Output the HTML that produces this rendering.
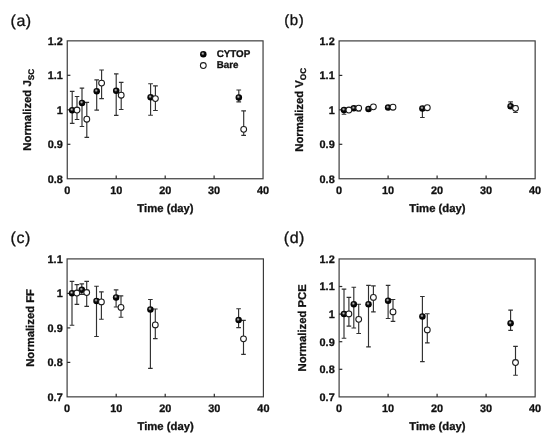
<!DOCTYPE html>
<html lang="en">
<head>
<meta charset="utf-8">
<title>Figure</title>
<style>
html,body{margin:0;padding:0;background:#fff;}
body{width:550px;height:448px;overflow:hidden;}
svg{display:block;filter:blur(0.35px);text-rendering:geometricPrecision;font-family:'Liberation Sans', Arial, Helvetica, sans-serif;}
text{stroke:#111;stroke-width:0.3px;stroke-linejoin:round;}
</style>
</head>
<body>
<svg width="550" height="448" viewBox="0 0 550 448">
<defs><radialGradient id="g" cx="0.44" cy="0.42" r="0.52" fx="0.42" fy="0.38"><stop offset="0" stop-color="#d0d0d0"/><stop offset="0.2" stop-color="#8a8a8a"/><stop offset="0.5" stop-color="#0c0c0c"/><stop offset="1" stop-color="#000"/></radialGradient></defs>
<rect width="550" height="448" fill="#fff"/>
<g>
<text x="10.6" y="25.8" font-size="16" letter-spacing="0.5" fill="#111">(a)</text>
<rect x="67.25" y="40.85" width="195.80" height="137.90" fill="none" stroke="#3a3a3a" stroke-width="1.18"/>
<text x="62.9" y="44.6" text-anchor="end" font-size="10.9" font-weight="bold" fill="#111">1.2</text>
<path d="M67.2 75.3h3.2" stroke="#2a2a2a" stroke-width="1.2"/>
<text x="62.9" y="79.1" text-anchor="end" font-size="10.9" font-weight="bold" fill="#111">1.1</text>
<path d="M67.2 109.8h3.2" stroke="#2a2a2a" stroke-width="1.2"/>
<text x="62.9" y="113.6" text-anchor="end" font-size="10.9" font-weight="bold" fill="#111">1</text>
<path d="M67.2 144.3h3.2" stroke="#2a2a2a" stroke-width="1.2"/>
<text x="62.9" y="148.1" text-anchor="end" font-size="10.9" font-weight="bold" fill="#111">0.9</text>
<text x="62.9" y="182.6" text-anchor="end" font-size="10.9" font-weight="bold" fill="#111">0.8</text>
<text x="67.2" y="194.2" text-anchor="middle" font-size="10.9" font-weight="bold" fill="#111">0</text>
<path d="M116.2 178.8v-3.2" stroke="#2a2a2a" stroke-width="1.2"/>
<text x="116.2" y="194.2" text-anchor="middle" font-size="10.9" font-weight="bold" fill="#111">10</text>
<path d="M165.2 178.8v-3.2" stroke="#2a2a2a" stroke-width="1.2"/>
<text x="165.2" y="194.2" text-anchor="middle" font-size="10.9" font-weight="bold" fill="#111">20</text>
<path d="M214.1 178.8v-3.2" stroke="#2a2a2a" stroke-width="1.2"/>
<text x="214.1" y="194.2" text-anchor="middle" font-size="10.9" font-weight="bold" fill="#111">30</text>
<text x="263.1" y="194.2" text-anchor="middle" font-size="10.9" font-weight="bold" fill="#111">40</text>
<text x="165.5" y="211.8" text-anchor="middle" font-size="11.3" font-weight="bold" fill="#111">Time (day)</text>
<text transform="translate(30.9 109.8) rotate(-90)" text-anchor="middle" font-size="11.3" font-weight="bold" fill="#111">Normalized J<tspan font-size="8.2" dy="2.6">SC</tspan></text>
<path d="M72.2 91.3V123.3M69.9 91.3H74.5M69.9 123.3H74.5" stroke="#303030" stroke-width="1.15" fill="none"/>
<path d="M82.0 88.1V126.5M79.7 88.1H84.2M79.7 126.5H84.2" stroke="#303030" stroke-width="1.15" fill="none"/>
<path d="M96.7 79.9V110.1M94.4 79.9H99.0M94.4 110.1H99.0" stroke="#303030" stroke-width="1.15" fill="none"/>
<path d="M116.2 73.8V115.4M114.0 73.8H118.5M114.0 115.4H118.5" stroke="#303030" stroke-width="1.15" fill="none"/>
<path d="M150.6 83.7V115.2M148.2 83.7H152.9M148.2 115.2H152.9" stroke="#303030" stroke-width="1.15" fill="none"/>
<path d="M238.8 90.0V101.8M236.4 90.0H241.1M236.4 101.8H241.1" stroke="#303030" stroke-width="1.15" fill="none"/>
<path d="M77.0 96.5V119.5M74.8 96.5H79.3M74.8 119.5H79.3" stroke="#303030" stroke-width="1.15" fill="none"/>
<path d="M86.8 102.4V137.3M84.5 102.4H89.1M84.5 137.3H89.1" stroke="#303030" stroke-width="1.15" fill="none"/>
<path d="M101.6 70.0V98.6M99.3 70.0H103.9M99.3 98.6H103.9" stroke="#303030" stroke-width="1.15" fill="none"/>
<path d="M121.2 82.3V109.5M118.9 82.3H123.5M118.9 109.5H123.5" stroke="#303030" stroke-width="1.15" fill="none"/>
<path d="M155.4 85.9V110.5M153.1 85.9H157.8M153.1 110.5H157.8" stroke="#303030" stroke-width="1.15" fill="none"/>
<path d="M243.7 110.8V135.3M241.3 110.8H246.0M241.3 135.3H246.0" stroke="#303030" stroke-width="1.15" fill="none"/>
<circle cx="72.2" cy="110.2" r="3.25" fill="url(#g)"/>
<circle cx="82.0" cy="102.9" r="3.25" fill="url(#g)"/>
<circle cx="96.7" cy="91.2" r="3.25" fill="url(#g)"/>
<circle cx="116.2" cy="90.8" r="3.25" fill="url(#g)"/>
<circle cx="150.6" cy="97.3" r="3.25" fill="url(#g)"/>
<circle cx="238.8" cy="97.5" r="3.25" fill="url(#g)"/>
<circle cx="77.0" cy="110.0" r="2.9" fill="#fff" stroke="#1c1c1c" stroke-width="1.05"/>
<circle cx="86.8" cy="119.2" r="2.9" fill="#fff" stroke="#1c1c1c" stroke-width="1.05"/>
<circle cx="101.6" cy="83.1" r="2.9" fill="#fff" stroke="#1c1c1c" stroke-width="1.05"/>
<circle cx="121.2" cy="95.2" r="2.9" fill="#fff" stroke="#1c1c1c" stroke-width="1.05"/>
<circle cx="155.4" cy="98.6" r="2.9" fill="#fff" stroke="#1c1c1c" stroke-width="1.05"/>
<circle cx="243.7" cy="129.3" r="2.9" fill="#fff" stroke="#1c1c1c" stroke-width="1.05"/>
<circle cx="203.3" cy="54.3" r="3.25" fill="url(#g)"/>
<circle cx="203.3" cy="65.5" r="2.9" fill="#fff" stroke="#1c1c1c" stroke-width="1.05"/>
<text x="216.7" y="57.1" font-size="9.8" font-weight="bold" fill="#111">CYTOP</text>
<text x="216.7" y="68.2" font-size="9.8" font-weight="bold" fill="#111">Bare</text>
</g>
<g>
<text x="284.3" y="24.8" font-size="15" letter-spacing="0.5" fill="#111">(b)</text>
<rect x="339.10" y="40.90" width="196.05" height="137.85" fill="none" stroke="#3a3a3a" stroke-width="1.18"/>
<text x="334.7" y="44.7" text-anchor="end" font-size="10.9" font-weight="bold" fill="#111">1.2</text>
<path d="M339.1 75.4h3.2" stroke="#2a2a2a" stroke-width="1.2"/>
<text x="334.7" y="79.2" text-anchor="end" font-size="10.9" font-weight="bold" fill="#111">1.1</text>
<path d="M339.1 109.8h3.2" stroke="#2a2a2a" stroke-width="1.2"/>
<text x="334.7" y="113.6" text-anchor="end" font-size="10.9" font-weight="bold" fill="#111">1</text>
<path d="M339.1 144.3h3.2" stroke="#2a2a2a" stroke-width="1.2"/>
<text x="334.7" y="148.1" text-anchor="end" font-size="10.9" font-weight="bold" fill="#111">0.9</text>
<text x="334.7" y="182.6" text-anchor="end" font-size="10.9" font-weight="bold" fill="#111">0.8</text>
<text x="339.1" y="194.2" text-anchor="middle" font-size="10.9" font-weight="bold" fill="#111">0</text>
<path d="M388.1 178.8v-3.2" stroke="#2a2a2a" stroke-width="1.2"/>
<text x="388.1" y="194.2" text-anchor="middle" font-size="10.9" font-weight="bold" fill="#111">10</text>
<path d="M437.1 178.8v-3.2" stroke="#2a2a2a" stroke-width="1.2"/>
<text x="437.1" y="194.2" text-anchor="middle" font-size="10.9" font-weight="bold" fill="#111">20</text>
<path d="M486.1 178.8v-3.2" stroke="#2a2a2a" stroke-width="1.2"/>
<text x="486.1" y="194.2" text-anchor="middle" font-size="10.9" font-weight="bold" fill="#111">30</text>
<text x="535.1" y="194.2" text-anchor="middle" font-size="10.9" font-weight="bold" fill="#111">40</text>
<text x="437.4" y="211.8" text-anchor="middle" font-size="11.3" font-weight="bold" fill="#111">Time (day)</text>
<text transform="translate(303.0 109.8) rotate(-90)" text-anchor="middle" font-size="11.3" font-weight="bold" fill="#111">Normalized V<tspan font-size="8.2" dy="2.6">OC</tspan></text>
<path d="M344.0 109.7V114.2M341.7 109.7H346.3M341.7 114.2H346.3" stroke="#303030" stroke-width="1.15" fill="none"/>
<path d="M422.4 106.5V117.5M420.1 106.5H424.7M420.1 117.5H424.7" stroke="#303030" stroke-width="1.15" fill="none"/>
<path d="M510.6 101.9V108.5M508.3 101.9H512.9M508.3 108.5H512.9" stroke="#303030" stroke-width="1.15" fill="none"/>
<path d="M358.7 108.1V111.0M356.4 108.1H361.0M356.4 111.0H361.0" stroke="#303030" stroke-width="1.15" fill="none"/>
<path d="M515.5 106.0V112.5M513.2 106.0H517.8M513.2 112.5H517.8" stroke="#303030" stroke-width="1.15" fill="none"/>
<circle cx="344.0" cy="109.9" r="3.25" fill="url(#g)"/>
<circle cx="353.8" cy="108.3" r="3.25" fill="url(#g)"/>
<circle cx="368.5" cy="108.9" r="3.25" fill="url(#g)"/>
<circle cx="388.1" cy="107.6" r="3.25" fill="url(#g)"/>
<circle cx="422.4" cy="108.5" r="3.25" fill="url(#g)"/>
<circle cx="510.6" cy="106.3" r="3.25" fill="url(#g)"/>
<circle cx="348.9" cy="110.0" r="2.9" fill="#fff" stroke="#1c1c1c" stroke-width="1.05"/>
<circle cx="358.7" cy="108.1" r="2.9" fill="#fff" stroke="#1c1c1c" stroke-width="1.05"/>
<circle cx="373.4" cy="106.8" r="2.9" fill="#fff" stroke="#1c1c1c" stroke-width="1.05"/>
<circle cx="393.0" cy="107.2" r="2.9" fill="#fff" stroke="#1c1c1c" stroke-width="1.05"/>
<circle cx="427.3" cy="107.7" r="2.9" fill="#fff" stroke="#1c1c1c" stroke-width="1.05"/>
<circle cx="515.5" cy="108.3" r="2.9" fill="#fff" stroke="#1c1c1c" stroke-width="1.05"/>
</g>
<g>
<text x="10.6" y="242.7" font-size="16" letter-spacing="0.5" fill="#111">(c)</text>
<rect x="67.10" y="258.90" width="196.30" height="137.95" fill="none" stroke="#3a3a3a" stroke-width="1.18"/>
<text x="62.7" y="262.7" text-anchor="end" font-size="10.9" font-weight="bold" fill="#111">1.1</text>
<path d="M67.1 293.4h3.2" stroke="#2a2a2a" stroke-width="1.2"/>
<text x="62.7" y="297.2" text-anchor="end" font-size="10.9" font-weight="bold" fill="#111">1</text>
<path d="M67.1 327.9h3.2" stroke="#2a2a2a" stroke-width="1.2"/>
<text x="62.7" y="331.7" text-anchor="end" font-size="10.9" font-weight="bold" fill="#111">0.9</text>
<path d="M67.1 362.4h3.2" stroke="#2a2a2a" stroke-width="1.2"/>
<text x="62.7" y="366.2" text-anchor="end" font-size="10.9" font-weight="bold" fill="#111">0.8</text>
<text x="62.7" y="400.7" text-anchor="end" font-size="10.9" font-weight="bold" fill="#111">0.7</text>
<text x="67.1" y="412.2" text-anchor="middle" font-size="10.9" font-weight="bold" fill="#111">0</text>
<path d="M116.2 396.9v-3.2" stroke="#2a2a2a" stroke-width="1.2"/>
<text x="116.2" y="412.2" text-anchor="middle" font-size="10.9" font-weight="bold" fill="#111">10</text>
<path d="M165.2 396.9v-3.2" stroke="#2a2a2a" stroke-width="1.2"/>
<text x="165.2" y="412.2" text-anchor="middle" font-size="10.9" font-weight="bold" fill="#111">20</text>
<path d="M214.3 396.9v-3.2" stroke="#2a2a2a" stroke-width="1.2"/>
<text x="214.3" y="412.2" text-anchor="middle" font-size="10.9" font-weight="bold" fill="#111">30</text>
<text x="263.4" y="412.2" text-anchor="middle" font-size="10.9" font-weight="bold" fill="#111">40</text>
<text x="165.6" y="429.9" text-anchor="middle" font-size="11.3" font-weight="bold" fill="#111">Time (day)</text>
<text transform="translate(34.2 327.9) rotate(-90)" text-anchor="middle" font-size="11.3" font-weight="bold" fill="#111">Normalized FF</text>
<path d="M72.0 281.4V325.2M69.7 281.4H74.3M69.7 325.2H74.3" stroke="#303030" stroke-width="1.15" fill="none"/>
<path d="M81.8 283.9V294.4M79.5 283.9H84.1M79.5 294.4H84.1" stroke="#303030" stroke-width="1.15" fill="none"/>
<path d="M96.5 286.2V336.5M94.2 286.2H98.8M94.2 336.5H98.8" stroke="#303030" stroke-width="1.15" fill="none"/>
<path d="M116.1 289.8V307.0M113.8 289.8H118.4M113.8 307.0H118.4" stroke="#303030" stroke-width="1.15" fill="none"/>
<path d="M150.4 299.5V368.3M148.1 299.5H152.7M148.1 368.3H152.7" stroke="#303030" stroke-width="1.15" fill="none"/>
<path d="M238.6 308.7V327.6M236.3 308.7H240.9M236.3 327.6H240.9" stroke="#303030" stroke-width="1.15" fill="none"/>
<path d="M76.9 284.6V304.3M74.6 284.6H79.2M74.6 304.3H79.2" stroke="#303030" stroke-width="1.15" fill="none"/>
<path d="M86.7 281.4V306.3M84.4 281.4H89.0M84.4 306.3H89.0" stroke="#303030" stroke-width="1.15" fill="none"/>
<path d="M101.4 291.8V319.2M99.1 291.8H103.7M99.1 319.2H103.7" stroke="#303030" stroke-width="1.15" fill="none"/>
<path d="M121.0 295.9V317.2M118.7 295.9H123.3M118.7 317.2H123.3" stroke="#303030" stroke-width="1.15" fill="none"/>
<path d="M155.3 309.0V338.6M153.0 309.0H157.6M153.0 338.6H157.6" stroke="#303030" stroke-width="1.15" fill="none"/>
<path d="M243.5 320.3V354.4M241.2 320.3H245.8M241.2 354.4H245.8" stroke="#303030" stroke-width="1.15" fill="none"/>
<circle cx="72.0" cy="293.2" r="3.25" fill="url(#g)"/>
<circle cx="81.8" cy="289.8" r="3.25" fill="url(#g)"/>
<circle cx="96.5" cy="300.9" r="3.25" fill="url(#g)"/>
<circle cx="116.1" cy="297.4" r="3.25" fill="url(#g)"/>
<circle cx="150.4" cy="309.5" r="3.25" fill="url(#g)"/>
<circle cx="238.6" cy="320.1" r="3.25" fill="url(#g)"/>
<circle cx="76.9" cy="293.0" r="2.9" fill="#fff" stroke="#1c1c1c" stroke-width="1.05"/>
<circle cx="86.7" cy="292.5" r="2.9" fill="#fff" stroke="#1c1c1c" stroke-width="1.05"/>
<circle cx="101.4" cy="301.9" r="2.9" fill="#fff" stroke="#1c1c1c" stroke-width="1.05"/>
<circle cx="121.0" cy="307.4" r="2.9" fill="#fff" stroke="#1c1c1c" stroke-width="1.05"/>
<circle cx="155.3" cy="324.9" r="2.9" fill="#fff" stroke="#1c1c1c" stroke-width="1.05"/>
<circle cx="243.5" cy="338.8" r="2.9" fill="#fff" stroke="#1c1c1c" stroke-width="1.05"/>
</g>
<g>
<text x="283.8" y="242.5" font-size="16" letter-spacing="0.5" fill="#111">(d)</text>
<rect x="339.10" y="258.95" width="196.05" height="137.95" fill="none" stroke="#3a3a3a" stroke-width="1.18"/>
<text x="334.7" y="262.8" text-anchor="end" font-size="10.9" font-weight="bold" fill="#111">1.2</text>
<path d="M339.1 286.5h3.2" stroke="#2a2a2a" stroke-width="1.2"/>
<text x="334.7" y="290.3" text-anchor="end" font-size="10.9" font-weight="bold" fill="#111">1.1</text>
<path d="M339.1 314.1h3.2" stroke="#2a2a2a" stroke-width="1.2"/>
<text x="334.7" y="317.9" text-anchor="end" font-size="10.9" font-weight="bold" fill="#111">1</text>
<path d="M339.1 341.7h3.2" stroke="#2a2a2a" stroke-width="1.2"/>
<text x="334.7" y="345.5" text-anchor="end" font-size="10.9" font-weight="bold" fill="#111">0.9</text>
<path d="M339.1 369.3h3.2" stroke="#2a2a2a" stroke-width="1.2"/>
<text x="334.7" y="373.1" text-anchor="end" font-size="10.9" font-weight="bold" fill="#111">0.8</text>
<text x="334.7" y="400.7" text-anchor="end" font-size="10.9" font-weight="bold" fill="#111">0.7</text>
<text x="339.1" y="412.3" text-anchor="middle" font-size="10.9" font-weight="bold" fill="#111">0</text>
<path d="M388.1 396.9v-3.2" stroke="#2a2a2a" stroke-width="1.2"/>
<text x="388.1" y="412.3" text-anchor="middle" font-size="10.9" font-weight="bold" fill="#111">10</text>
<path d="M437.1 396.9v-3.2" stroke="#2a2a2a" stroke-width="1.2"/>
<text x="437.1" y="412.3" text-anchor="middle" font-size="10.9" font-weight="bold" fill="#111">20</text>
<path d="M486.1 396.9v-3.2" stroke="#2a2a2a" stroke-width="1.2"/>
<text x="486.1" y="412.3" text-anchor="middle" font-size="10.9" font-weight="bold" fill="#111">30</text>
<text x="535.1" y="412.3" text-anchor="middle" font-size="10.9" font-weight="bold" fill="#111">40</text>
<text x="437.4" y="429.9" text-anchor="middle" font-size="11.3" font-weight="bold" fill="#111">Time (day)</text>
<text transform="translate(306.0 327.9) rotate(-90)" text-anchor="middle" font-size="11.3" font-weight="bold" fill="#111">Normalized PCE</text>
<path d="M344.0 289.1V338.2M341.7 289.1H346.3M341.7 338.2H346.3" stroke="#303030" stroke-width="1.15" fill="none"/>
<path d="M353.8 287.2V328.0M351.5 287.2H356.1M351.5 328.0H356.1" stroke="#303030" stroke-width="1.15" fill="none"/>
<path d="M368.5 285.3V346.8M366.2 285.3H370.8M366.2 346.8H370.8" stroke="#303030" stroke-width="1.15" fill="none"/>
<path d="M388.1 285.3V318.5M385.8 285.3H390.4M385.8 318.5H390.4" stroke="#303030" stroke-width="1.15" fill="none"/>
<path d="M422.4 296.5V361.6M420.1 296.5H424.7M420.1 361.6H424.7" stroke="#303030" stroke-width="1.15" fill="none"/>
<path d="M510.6 310.1V330.3M508.3 310.1H512.9M508.3 330.3H512.9" stroke="#303030" stroke-width="1.15" fill="none"/>
<path d="M348.9 297.4V326.1M346.6 297.4H351.2M346.6 326.1H351.2" stroke="#303030" stroke-width="1.15" fill="none"/>
<path d="M358.7 304.2V333.5M356.4 304.2H361.0M356.4 333.5H361.0" stroke="#303030" stroke-width="1.15" fill="none"/>
<path d="M373.4 285.9V311.8M371.1 285.9H375.7M371.1 311.8H375.7" stroke="#303030" stroke-width="1.15" fill="none"/>
<path d="M393.0 299.5V321.4M390.7 299.5H395.3M390.7 321.4H395.3" stroke="#303030" stroke-width="1.15" fill="none"/>
<path d="M427.3 313.7V342.9M425.0 313.7H429.6M425.0 342.9H429.6" stroke="#303030" stroke-width="1.15" fill="none"/>
<path d="M515.5 346.3V375.2M513.2 346.3H517.8M513.2 375.2H517.8" stroke="#303030" stroke-width="1.15" fill="none"/>
<circle cx="344.0" cy="314.0" r="3.25" fill="url(#g)"/>
<circle cx="353.8" cy="304.2" r="3.25" fill="url(#g)"/>
<circle cx="368.5" cy="304.3" r="3.25" fill="url(#g)"/>
<circle cx="388.1" cy="300.7" r="3.25" fill="url(#g)"/>
<circle cx="422.4" cy="316.5" r="3.25" fill="url(#g)"/>
<circle cx="510.6" cy="323.3" r="3.25" fill="url(#g)"/>
<circle cx="348.9" cy="313.9" r="2.9" fill="#fff" stroke="#1c1c1c" stroke-width="1.05"/>
<circle cx="358.7" cy="319.3" r="2.9" fill="#fff" stroke="#1c1c1c" stroke-width="1.05"/>
<circle cx="373.4" cy="297.4" r="2.9" fill="#fff" stroke="#1c1c1c" stroke-width="1.05"/>
<circle cx="393.0" cy="311.9" r="2.9" fill="#fff" stroke="#1c1c1c" stroke-width="1.05"/>
<circle cx="427.3" cy="329.9" r="2.9" fill="#fff" stroke="#1c1c1c" stroke-width="1.05"/>
<circle cx="515.5" cy="362.5" r="2.9" fill="#fff" stroke="#1c1c1c" stroke-width="1.05"/>
</g>
</svg>
</body>
</html>
